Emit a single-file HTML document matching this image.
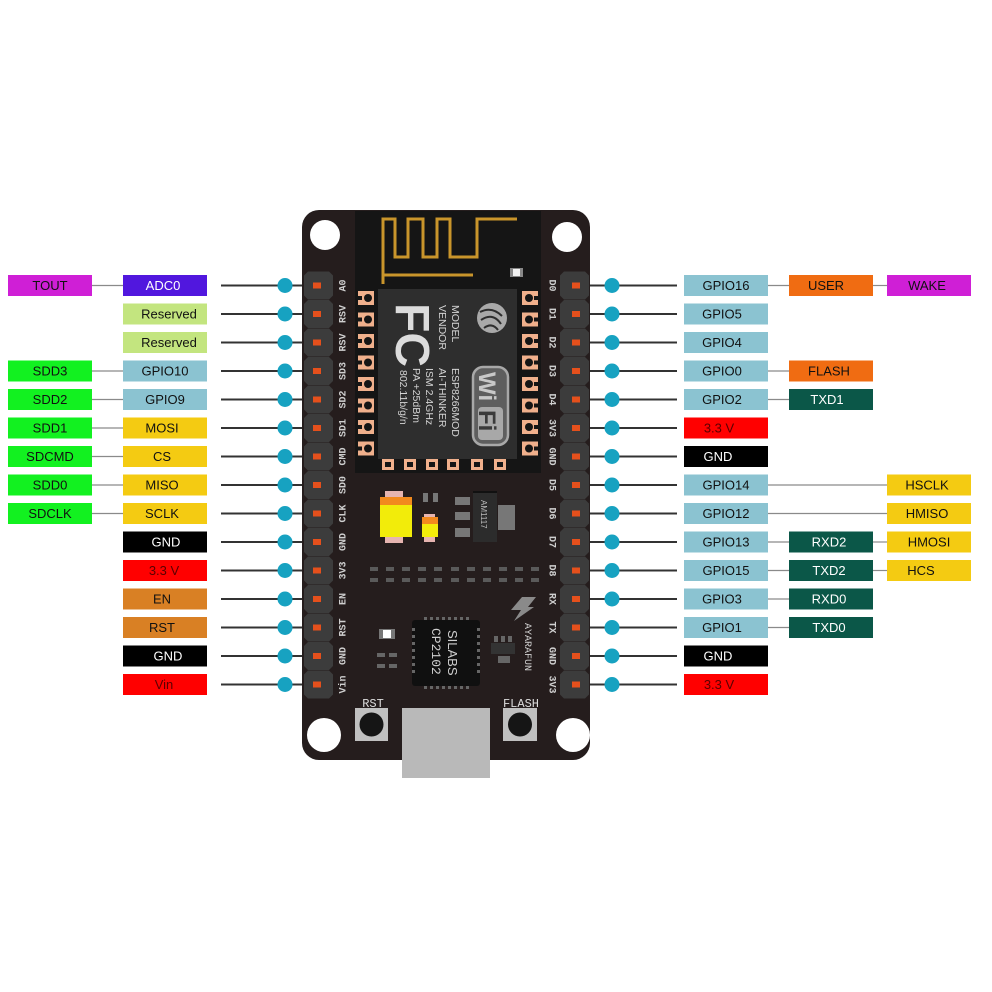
<!DOCTYPE html>
<html><head><meta charset="utf-8"><style>
html,body{margin:0;padding:0;background:#fff;}
svg{display:block;}
.t{font-family:"Liberation Sans",sans-serif;font-size:13px;text-anchor:middle;fill:#111;}
.w{fill:#fff;}
.r{fill:#5a0000;}
.pl{font-family:"Liberation Mono",monospace;font-size:10px;font-weight:bold;fill:#cfcfcf;text-anchor:middle;dominant-baseline:central;}
.st{font-family:"Liberation Sans",sans-serif;font-size:10.5px;fill:#d4d4d4;dominant-baseline:central;}
</style></head><body>
<svg width="992" height="992" viewBox="0 0 992 992" xmlns="http://www.w3.org/2000/svg">
<rect width="992" height="992" fill="#fff"/>

<!-- LEFT ROWS -->
<g id="left">
<g stroke="#333" stroke-width="2">
<line x1="221" x2="306" y1="285.5" y2="285.5"/>
<line x1="221" x2="306" y1="314" y2="314"/>
<line x1="221" x2="306" y1="342.5" y2="342.5"/>
<line x1="221" x2="306" y1="371" y2="371"/>
<line x1="221" x2="306" y1="399.5" y2="399.5"/>
<line x1="221" x2="306" y1="428" y2="428"/>
<line x1="221" x2="306" y1="456.5" y2="456.5"/>
<line x1="221" x2="306" y1="485" y2="485"/>
<line x1="221" x2="306" y1="513.5" y2="513.5"/>
<line x1="221" x2="306" y1="542" y2="542"/>
<line x1="221" x2="306" y1="570.5" y2="570.5"/>
<line x1="221" x2="306" y1="599" y2="599"/>
<line x1="221" x2="306" y1="627.5" y2="627.5"/>
<line x1="221" x2="306" y1="656" y2="656"/>
<line x1="221" x2="306" y1="684.5" y2="684.5"/>
</g>
<g stroke="#8a8a8a" stroke-width="1.2">
<line x1="92" x2="123" y1="285.5" y2="285.5"/>
<line x1="92" x2="123" y1="371" y2="371"/>
<line x1="92" x2="123" y1="399.5" y2="399.5"/>
<line x1="92" x2="123" y1="428" y2="428"/>
<line x1="92" x2="123" y1="456.5" y2="456.5"/>
<line x1="92" x2="123" y1="485" y2="485"/>
<line x1="92" x2="123" y1="513.5" y2="513.5"/>
</g>
<g fill="#17a2c1">
<circle cx="285" cy="285.5" r="7.5"/><circle cx="285" cy="314" r="7.5"/><circle cx="285" cy="342.5" r="7.5"/>
<circle cx="285" cy="371" r="7.5"/><circle cx="285" cy="399.5" r="7.5"/><circle cx="285" cy="428" r="7.5"/>
<circle cx="285" cy="456.5" r="7.5"/><circle cx="285" cy="485" r="7.5"/><circle cx="285" cy="513.5" r="7.5"/>
<circle cx="285" cy="542" r="7.5"/><circle cx="285" cy="570.5" r="7.5"/><circle cx="285" cy="599" r="7.5"/>
<circle cx="285" cy="627.5" r="7.5"/><circle cx="285" cy="656" r="7.5"/><circle cx="285" cy="684.5" r="7.5"/>
</g>
<rect x="8" y="275" width="84" height="21" fill="#cf1fd6"/><text class="t" x="50" y="290">TOUT</text>
<rect x="8" y="360.5" width="84" height="21" fill="#12f120"/><text class="t" x="50" y="375.5">SDD3</text>
<rect x="8" y="389" width="84" height="21" fill="#12f120"/><text class="t" x="50" y="404">SDD2</text>
<rect x="8" y="417.5" width="84" height="21" fill="#12f120"/><text class="t" x="50" y="432.5">SDD1</text>
<rect x="8" y="446" width="84" height="21" fill="#12f120"/><text class="t" x="50" y="461">SDCMD</text>
<rect x="8" y="474.5" width="84" height="21" fill="#12f120"/><text class="t" x="50" y="489.5">SDD0</text>
<rect x="8" y="503" width="84" height="21" fill="#12f120"/><text class="t" x="50" y="518">SDCLK</text>
<rect x="123" y="275" width="84" height="21" fill="#5117de"/><text class="t w" x="163" y="290">ADC0</text>
<rect x="123" y="303.5" width="84" height="21" fill="#c3e57f"/><text class="t" x="169" y="318.5">Reserved</text>
<rect x="123" y="332" width="84" height="21" fill="#c3e57f"/><text class="t" x="169" y="347">Reserved</text>
<rect x="123" y="360.5" width="84" height="21" fill="#8bc3d1"/><text class="t" x="165" y="375.5">GPIO10</text>
<rect x="123" y="389" width="84" height="21" fill="#8bc3d1"/><text class="t" x="165" y="404">GPIO9</text>
<rect x="123" y="417.5" width="84" height="21" fill="#f4cb12"/><text class="t" x="162" y="432.5">MOSI</text>
<rect x="123" y="446" width="84" height="21" fill="#f4cb12"/><text class="t" x="162" y="461">CS</text>
<rect x="123" y="474.5" width="84" height="21" fill="#f4cb12"/><text class="t" x="162" y="489.5">MISO</text>
<rect x="123" y="503" width="84" height="21" fill="#f4cb12"/><text class="t" x="162" y="518">SCLK</text>
<rect x="123" y="531.5" width="84" height="21" fill="#000"/><text class="t w" x="166" y="546.5">GND</text>
<rect x="123" y="560" width="84" height="21" fill="#ff0000"/><text class="t r" x="164" y="575">3.3 V</text>
<rect x="123" y="588.5" width="84" height="21" fill="#d98024"/><text class="t" x="162" y="603.5">EN</text>
<rect x="123" y="617" width="84" height="21" fill="#d98024"/><text class="t" x="162" y="632">RST</text>
<rect x="123" y="645.5" width="84" height="21" fill="#000"/><text class="t w" x="168" y="660.5">GND</text>
<rect x="123" y="674" width="84" height="21" fill="#ff0000"/><text class="t r" x="164" y="689">Vin</text>
</g>

<!-- RIGHT ROWS -->
<g id="right">
<g stroke="#333" stroke-width="2">
<line x1="588" x2="677" y1="285.5" y2="285.5"/>
<line x1="588" x2="677" y1="314" y2="314"/>
<line x1="588" x2="677" y1="342.5" y2="342.5"/>
<line x1="588" x2="677" y1="371" y2="371"/>
<line x1="588" x2="677" y1="399.5" y2="399.5"/>
<line x1="588" x2="677" y1="428" y2="428"/>
<line x1="588" x2="677" y1="456.5" y2="456.5"/>
<line x1="588" x2="677" y1="485" y2="485"/>
<line x1="588" x2="677" y1="513.5" y2="513.5"/>
<line x1="588" x2="677" y1="542" y2="542"/>
<line x1="588" x2="677" y1="570.5" y2="570.5"/>
<line x1="588" x2="677" y1="599" y2="599"/>
<line x1="588" x2="677" y1="627.5" y2="627.5"/>
<line x1="588" x2="677" y1="656" y2="656"/>
<line x1="588" x2="677" y1="684.5" y2="684.5"/>
</g>
<g stroke="#8a8a8a" stroke-width="1.2">
<line x1="768" x2="789" y1="285.5" y2="285.5"/>
<line x1="873" x2="887" y1="285.5" y2="285.5"/>
<line x1="768" x2="789" y1="371" y2="371"/>
<line x1="768" x2="789" y1="399.5" y2="399.5"/>
<line x1="768" x2="887" y1="485" y2="485"/>
<line x1="768" x2="887" y1="513.5" y2="513.5"/>
<line x1="768" x2="789" y1="542" y2="542"/>
<line x1="873" x2="887" y1="542" y2="542"/>
<line x1="768" x2="789" y1="570.5" y2="570.5"/>
<line x1="873" x2="887" y1="570.5" y2="570.5"/>
<line x1="768" x2="789" y1="599" y2="599"/>
<line x1="768" x2="789" y1="627.5" y2="627.5"/>
</g>
<g fill="#17a2c1">
<circle cx="612" cy="285.5" r="7.5"/><circle cx="612" cy="314" r="7.5"/><circle cx="612" cy="342.5" r="7.5"/>
<circle cx="612" cy="371" r="7.5"/><circle cx="612" cy="399.5" r="7.5"/><circle cx="612" cy="428" r="7.5"/>
<circle cx="612" cy="456.5" r="7.5"/><circle cx="612" cy="485" r="7.5"/><circle cx="612" cy="513.5" r="7.5"/>
<circle cx="612" cy="542" r="7.5"/><circle cx="612" cy="570.5" r="7.5"/><circle cx="612" cy="599" r="7.5"/>
<circle cx="612" cy="627.5" r="7.5"/><circle cx="612" cy="656" r="7.5"/><circle cx="612" cy="684.5" r="7.5"/>
</g>
<rect x="684" y="275" width="84" height="21" fill="#8bc3d1"/><text class="t" x="726" y="290">GPIO16</text>
<rect x="684" y="303.5" width="84" height="21" fill="#8bc3d1"/><text class="t" x="722" y="318.5">GPIO5</text>
<rect x="684" y="332" width="84" height="21" fill="#8bc3d1"/><text class="t" x="722" y="347">GPIO4</text>
<rect x="684" y="360.5" width="84" height="21" fill="#8bc3d1"/><text class="t" x="722" y="375.5">GPIO0</text>
<rect x="684" y="389" width="84" height="21" fill="#8bc3d1"/><text class="t" x="722" y="404">GPIO2</text>
<rect x="684" y="417.5" width="84" height="21" fill="#ff0000"/><text class="t r" x="719" y="432.5">3.3 V</text>
<rect x="684" y="446" width="84" height="21" fill="#000"/><text class="t w" x="718" y="461">GND</text>
<rect x="684" y="474.5" width="84" height="21" fill="#8bc3d1"/><text class="t" x="726" y="489.5">GPIO14</text>
<rect x="684" y="503" width="84" height="21" fill="#8bc3d1"/><text class="t" x="726" y="518">GPIO12</text>
<rect x="684" y="531.5" width="84" height="21" fill="#8bc3d1"/><text class="t" x="726" y="546.5">GPIO13</text>
<rect x="684" y="560" width="84" height="21" fill="#8bc3d1"/><text class="t" x="726" y="575">GPIO15</text>
<rect x="684" y="588.5" width="84" height="21" fill="#8bc3d1"/><text class="t" x="722" y="603.5">GPIO3</text>
<rect x="684" y="617" width="84" height="21" fill="#8bc3d1"/><text class="t" x="722" y="632">GPIO1</text>
<rect x="684" y="645.5" width="84" height="21" fill="#000"/><text class="t w" x="718" y="660.5">GND</text>
<rect x="684" y="674" width="84" height="21" fill="#ff0000"/><text class="t r" x="719" y="689">3.3 V</text>
<rect x="789" y="275" width="84" height="21" fill="#f06c12"/><text class="t" x="826" y="290">USER</text>
<rect x="789" y="360.5" width="84" height="21" fill="#f06c12"/><text class="t" x="829" y="375.5">FLASH</text>
<rect x="789" y="389" width="84" height="21" fill="#0b5748"/><text class="t w" x="827" y="404">TXD1</text>
<rect x="789" y="531.5" width="84" height="21" fill="#0b5748"/><text class="t w" x="829" y="546.5">RXD2</text>
<rect x="789" y="560" width="84" height="21" fill="#0b5748"/><text class="t w" x="829" y="575">TXD2</text>
<rect x="789" y="588.5" width="84" height="21" fill="#0b5748"/><text class="t w" x="829" y="603.5">RXD0</text>
<rect x="789" y="617" width="84" height="21" fill="#0b5748"/><text class="t w" x="829" y="632">TXD0</text>
<rect x="887" y="275" width="84" height="21" fill="#cf1fd6"/><text class="t" x="927" y="290">WAKE</text>
<rect x="887" y="474.5" width="84" height="21" fill="#f4cb12"/><text class="t" x="927" y="489.5">HSCLK</text>
<rect x="887" y="503" width="84" height="21" fill="#f4cb12"/><text class="t" x="927" y="518">HMISO</text>
<rect x="887" y="531.5" width="84" height="21" fill="#f4cb12"/><text class="t" x="929" y="546.5">HMOSI</text>
<rect x="887" y="560" width="84" height="21" fill="#f4cb12"/><text class="t" x="921" y="575">HCS</text>
</g>

<!-- BOARD -->
<rect x="302" y="210" width="288" height="550" rx="17" fill="#251d1d"/>
<rect x="355" y="211" width="186" height="262" fill="#151515"/>
<g fill="none" stroke="#c9952b" stroke-width="3">
<path d="M383,284 V219 H395 V257 H408 V219 H423 V257 H437 V219 H450 V257 H477 V219 H517"/>
<path d="M383,275 H473"/>
</g>
<rect x="510" y="268" width="13" height="9" fill="#888"/><rect x="513" y="269" width="7" height="7" fill="#f2f2f2"/>
<rect x="378" y="289" width="139" height="170" fill="#2e2e2e"/>
<g>
<g fill="#f0b08c">
<rect x="358" y="291" width="16" height="14"/><rect x="358" y="312.5" width="16" height="14"/><rect x="358" y="334" width="16" height="14"/><rect x="358" y="355.5" width="16" height="14"/>
<rect x="358" y="377" width="16" height="14"/><rect x="358" y="398.5" width="16" height="14"/><rect x="358" y="420" width="16" height="14"/><rect x="358" y="441.5" width="16" height="14"/>
<rect x="522" y="291" width="16" height="14"/><rect x="522" y="312.5" width="16" height="14"/><rect x="522" y="334" width="16" height="14"/><rect x="522" y="355.5" width="16" height="14"/>
<rect x="522" y="377" width="16" height="14"/><rect x="522" y="398.5" width="16" height="14"/><rect x="522" y="420" width="16" height="14"/><rect x="522" y="441.5" width="16" height="14"/>
<rect x="382" y="459" width="12" height="11"/><rect x="404" y="459" width="12" height="11"/><rect x="426" y="459" width="12" height="11"/>
<rect x="447" y="459" width="12" height="11"/><rect x="471" y="459" width="12" height="11"/><rect x="494" y="459" width="12" height="11"/>
</g>
<g fill="#151515">
<circle cx="368" cy="298" r="4"/><circle cx="368" cy="319.5" r="4"/><circle cx="368" cy="341" r="4"/><circle cx="368" cy="362.5" r="4"/>
<circle cx="368" cy="384" r="4"/><circle cx="368" cy="405.5" r="4"/><circle cx="368" cy="427" r="4"/><circle cx="368" cy="448.5" r="4"/>
<rect x="358" y="296" width="4" height="4"/><rect x="358" y="317.5" width="4" height="4"/><rect x="358" y="339" width="4" height="4"/><rect x="358" y="360.5" width="4" height="4"/>
<rect x="358" y="382" width="4" height="4"/><rect x="358" y="403.5" width="4" height="4"/><rect x="358" y="425" width="4" height="4"/><rect x="358" y="446.5" width="4" height="4"/>
<circle cx="529" cy="298" r="4"/><circle cx="529" cy="319.5" r="4"/><circle cx="529" cy="341" r="4"/><circle cx="529" cy="362.5" r="4"/>
<circle cx="529" cy="384" r="4"/><circle cx="529" cy="405.5" r="4"/><circle cx="529" cy="427" r="4"/><circle cx="529" cy="448.5" r="4"/>
<rect x="534" y="296" width="4" height="4"/><rect x="534" y="317.5" width="4" height="4"/><rect x="534" y="339" width="4" height="4"/><rect x="534" y="360.5" width="4" height="4"/>
<rect x="534" y="382" width="4" height="4"/><rect x="534" y="403.5" width="4" height="4"/><rect x="534" y="425" width="4" height="4"/><rect x="534" y="446.5" width="4" height="4"/>
<rect x="385" y="462" width="6" height="5"/><rect x="407" y="462" width="6" height="5"/><rect x="429" y="462" width="6" height="5"/>
<rect x="450" y="462" width="6" height="5"/><rect x="474" y="462" width="6" height="5"/><rect x="497" y="462" width="6" height="5"/>
</g>
</g>
<text x="0" y="0" transform="translate(396,303) rotate(90)" font-family="Liberation Sans, sans-serif" font-weight="bold" font-size="48" fill="#dcdcdc">FC</text>
<circle cx="492" cy="318" r="15" fill="#a9a9a9"/>
<g fill="none" stroke="#2e2e2e" stroke-width="2">
<path d="M480,312 q12,-6 22,4"/><path d="M481,320 q12,-8 20,4"/><path d="M484,328 q8,-6 14,2"/>
</g>
<g class="st">
<text transform="translate(455,305) rotate(90)">MODEL</text>
<text transform="translate(442,305) rotate(90)">VENDOR</text>
<text transform="translate(455,368) rotate(90)">ESP8266MOD</text>
<text transform="translate(442,368) rotate(90)">AI-THINKER</text>
<text transform="translate(429,368) rotate(90)">ISM 2.4GHz</text>
<text transform="translate(416,368) rotate(90)">PA +25dBm</text>
<text transform="translate(403,370) rotate(90)">802.11b/g/n</text>
</g>
<rect x="473" y="367" width="35" height="78" rx="10" fill="#5e5e5e" stroke="#a8a8a8" stroke-width="2.5"/>
<rect x="478" y="407" width="25" height="33" rx="4" fill="#a8a8a8"/>
<text transform="translate(479,372) rotate(90)" font-family="Liberation Sans, sans-serif" font-weight="bold" font-size="24" fill="#c8c8c8">Wi</text>
<text transform="translate(479,410) rotate(90)" font-family="Liberation Sans, sans-serif" font-weight="bold" font-size="24" fill="#3a3a3a">Fi</text>

<g fill="#3c3c3c">
<polygon points="304,275.5 308,271.5 329,271.5 333,275.5 333,295.5 329,299.5 308,299.5 304,295.5"/>
<polygon points="304,304 308,300 329,300 333,304 333,324 329,328 308,328 304,324"/>
<polygon points="304,332.5 308,328.5 329,328.5 333,332.5 333,352.5 329,356.5 308,356.5 304,352.5"/>
<polygon points="304,361 308,357 329,357 333,361 333,381 329,385 308,385 304,381"/>
<polygon points="304,389.5 308,385.5 329,385.5 333,389.5 333,409.5 329,413.5 308,413.5 304,409.5"/>
<polygon points="304,418 308,414 329,414 333,418 333,438 329,442 308,442 304,438"/>
<polygon points="304,446.5 308,442.5 329,442.5 333,446.5 333,466.5 329,470.5 308,470.5 304,466.5"/>
<polygon points="304,475 308,471 329,471 333,475 333,495 329,499 308,499 304,495"/>
<polygon points="304,503.5 308,499.5 329,499.5 333,503.5 333,523.5 329,527.5 308,527.5 304,523.5"/>
<polygon points="304,532 308,528 329,528 333,532 333,552 329,556 308,556 304,552"/>
<polygon points="304,560.5 308,556.5 329,556.5 333,560.5 333,580.5 329,584.5 308,584.5 304,580.5"/>
<polygon points="304,589 308,585 329,585 333,589 333,609 329,613 308,613 304,609"/>
<polygon points="304,617.5 308,613.5 329,613.5 333,617.5 333,637.5 329,641.5 308,641.5 304,637.5"/>
<polygon points="304,646 308,642 329,642 333,646 333,666 329,670 308,670 304,666"/>
<polygon points="304,674.5 308,670.5 329,670.5 333,674.5 333,694.5 329,698.5 308,698.5 304,694.5"/>
</g>
<g fill="#3c3c3c" transform="translate(256,0)">
<polygon points="304,275.5 308,271.5 329,271.5 333,275.5 333,295.5 329,299.5 308,299.5 304,295.5"/>
<polygon points="304,304 308,300 329,300 333,304 333,324 329,328 308,328 304,324"/>
<polygon points="304,332.5 308,328.5 329,328.5 333,332.5 333,352.5 329,356.5 308,356.5 304,352.5"/>
<polygon points="304,361 308,357 329,357 333,361 333,381 329,385 308,385 304,381"/>
<polygon points="304,389.5 308,385.5 329,385.5 333,389.5 333,409.5 329,413.5 308,413.5 304,409.5"/>
<polygon points="304,418 308,414 329,414 333,418 333,438 329,442 308,442 304,438"/>
<polygon points="304,446.5 308,442.5 329,442.5 333,446.5 333,466.5 329,470.5 308,470.5 304,466.5"/>
<polygon points="304,475 308,471 329,471 333,475 333,495 329,499 308,499 304,495"/>
<polygon points="304,503.5 308,499.5 329,499.5 333,503.5 333,523.5 329,527.5 308,527.5 304,523.5"/>
<polygon points="304,532 308,528 329,528 333,532 333,552 329,556 308,556 304,552"/>
<polygon points="304,560.5 308,556.5 329,556.5 333,560.5 333,580.5 329,584.5 308,584.5 304,580.5"/>
<polygon points="304,589 308,585 329,585 333,589 333,609 329,613 308,613 304,609"/>
<polygon points="304,617.5 308,613.5 329,613.5 333,617.5 333,637.5 329,641.5 308,641.5 304,637.5"/>
<polygon points="304,646 308,642 329,642 333,646 333,666 329,670 308,670 304,666"/>
<polygon points="304,674.5 308,670.5 329,670.5 333,674.5 333,694.5 329,698.5 308,698.5 304,694.5"/>
</g>
<g fill="#e5501c">
<rect x="313" y="282.5" width="8" height="6"/><rect x="313" y="311" width="8" height="6"/><rect x="313" y="339.5" width="8" height="6"/>
<rect x="313" y="368" width="8" height="6"/><rect x="313" y="396.5" width="8" height="6"/><rect x="313" y="425" width="8" height="6"/>
<rect x="313" y="453.5" width="8" height="6"/><rect x="313" y="482" width="8" height="6"/><rect x="313" y="510.5" width="8" height="6"/>
<rect x="313" y="539" width="8" height="6"/><rect x="313" y="567.5" width="8" height="6"/><rect x="313" y="596" width="8" height="6"/>
<rect x="313" y="624.5" width="8" height="6"/><rect x="313" y="653" width="8" height="6"/><rect x="313" y="681.5" width="8" height="6"/>
<rect x="572" y="282.5" width="8" height="6"/><rect x="572" y="311" width="8" height="6"/><rect x="572" y="339.5" width="8" height="6"/>
<rect x="572" y="368" width="8" height="6"/><rect x="572" y="396.5" width="8" height="6"/><rect x="572" y="425" width="8" height="6"/>
<rect x="572" y="453.5" width="8" height="6"/><rect x="572" y="482" width="8" height="6"/><rect x="572" y="510.5" width="8" height="6"/>
<rect x="572" y="539" width="8" height="6"/><rect x="572" y="567.5" width="8" height="6"/><rect x="572" y="596" width="8" height="6"/>
<rect x="572" y="624.5" width="8" height="6"/><rect x="572" y="653" width="8" height="6"/><rect x="572" y="681.5" width="8" height="6"/>
</g>
<g class="pl">
<text transform="translate(344,285.5) rotate(-90)">A0</text>
<text transform="translate(344,314) rotate(-90)">RSV</text>
<text transform="translate(344,342.5) rotate(-90)">RSV</text>
<text transform="translate(344,371) rotate(-90)">SD3</text>
<text transform="translate(344,399.5) rotate(-90)">SD2</text>
<text transform="translate(344,428) rotate(-90)">SD1</text>
<text transform="translate(344,456.5) rotate(-90)">CMD</text>
<text transform="translate(344,485) rotate(-90)">SD0</text>
<text transform="translate(344,513.5) rotate(-90)">CLK</text>
<text transform="translate(344,542) rotate(-90)">GND</text>
<text transform="translate(344,570.5) rotate(-90)">3V3</text>
<text transform="translate(344,599) rotate(-90)">EN</text>
<text transform="translate(344,627.5) rotate(-90)">RST</text>
<text transform="translate(344,656) rotate(-90)">GND</text>
<text transform="translate(344,684.5) rotate(-90)">Vin</text>
<text transform="translate(551,285.5) rotate(90)">D0</text>
<text transform="translate(551,314) rotate(90)">D1</text>
<text transform="translate(551,342.5) rotate(90)">D2</text>
<text transform="translate(551,371) rotate(90)">D3</text>
<text transform="translate(551,399.5) rotate(90)">D4</text>
<text transform="translate(551,428) rotate(90)">3V3</text>
<text transform="translate(551,456.5) rotate(90)">GND</text>
<text transform="translate(551,485) rotate(90)">D5</text>
<text transform="translate(551,513.5) rotate(90)">D6</text>
<text transform="translate(551,542) rotate(90)">D7</text>
<text transform="translate(551,570.5) rotate(90)">D8</text>
<text transform="translate(551,599) rotate(90)">RX</text>
<text transform="translate(551,627.5) rotate(90)">TX</text>
<text transform="translate(551,656) rotate(90)">GND</text>
<text transform="translate(551,684.5) rotate(90)">3V3</text>
</g>

<g fill="#fff">
<circle cx="325" cy="235" r="15"/>
<circle cx="567" cy="237" r="15"/>
<circle cx="324" cy="735" r="17"/>
<circle cx="573" cy="735" r="17"/>
</g>

<rect x="385" y="491" width="18" height="7" fill="#e6b4b0"/>
<rect x="380" y="497" width="32" height="9" fill="#f28a1e"/>
<rect x="380" y="505" width="32" height="32" fill="#f2ec0a"/>
<rect x="385" y="537" width="18" height="6" fill="#e6b4b0"/>
<rect x="424" y="514" width="11" height="4" fill="#e6b4b0"/>
<rect x="422" y="517" width="16" height="8" fill="#f28a1e"/>
<rect x="422" y="524" width="16" height="13" fill="#f2ec0a"/>
<rect x="424" y="537" width="11" height="5" fill="#e6b4b0"/>
<rect x="423" y="493" width="5" height="9" fill="#777"/><rect x="433" y="493" width="5" height="9" fill="#777"/>
<rect x="455" y="497" width="15" height="8" fill="#777"/><rect x="455" y="512" width="15" height="8" fill="#777"/><rect x="455" y="528" width="15" height="9" fill="#777"/>
<rect x="473" y="493" width="24" height="49" fill="#2c2c2c"/>
<rect x="473" y="491" width="24" height="2" fill="#111"/>
<text transform="translate(481,500) rotate(90)" font-family="Liberation Sans, sans-serif" font-size="8" fill="#bbb">AM1117</text>
<rect x="498" y="505" width="17" height="25" fill="#777"/>
<g fill="#5a5a5a">
<rect x="370" y="567" width="8" height="4"/><rect x="386" y="567" width="8" height="4"/><rect x="402" y="567" width="8" height="4"/><rect x="418" y="567" width="8" height="4"/><rect x="434" y="567" width="8" height="4"/><rect x="451" y="567" width="8" height="4"/><rect x="467" y="567" width="8" height="4"/><rect x="483" y="567" width="8" height="4"/><rect x="499" y="567" width="8" height="4"/><rect x="515" y="567" width="8" height="4"/><rect x="531" y="567" width="8" height="4"/>
<rect x="370" y="578" width="8" height="4"/><rect x="386" y="578" width="8" height="4"/><rect x="402" y="578" width="8" height="4"/><rect x="418" y="578" width="8" height="4"/><rect x="434" y="578" width="8" height="4"/><rect x="451" y="578" width="8" height="4"/><rect x="467" y="578" width="8" height="4"/><rect x="483" y="578" width="8" height="4"/><rect x="499" y="578" width="8" height="4"/><rect x="515" y="578" width="8" height="4"/><rect x="531" y="578" width="8" height="4"/>
</g>
<polygon points="522,597 536,597 528,607 534,607 514,621 521,610 511,610" fill="#8a8a8a"/>
<text transform="translate(525,623) rotate(90)" font-family="Liberation Mono, monospace" font-size="10" fill="#cfcfcf">AYARAFUN</text>
<rect x="412" y="620" width="68" height="66" rx="3" fill="#101010"/>
<g fill="#666">
<rect x="424" y="617" width="3" height="3"/><rect x="430" y="617" width="3" height="3"/><rect x="436" y="617" width="3" height="3"/><rect x="442" y="617" width="3" height="3"/><rect x="448" y="617" width="3" height="3"/><rect x="454" y="617" width="3" height="3"/><rect x="460" y="617" width="3" height="3"/><rect x="466" y="617" width="3" height="3"/>
<rect x="424" y="686" width="3" height="3"/><rect x="430" y="686" width="3" height="3"/><rect x="436" y="686" width="3" height="3"/><rect x="442" y="686" width="3" height="3"/><rect x="448" y="686" width="3" height="3"/><rect x="454" y="686" width="3" height="3"/><rect x="460" y="686" width="3" height="3"/><rect x="466" y="686" width="3" height="3"/>
<rect x="412" y="628" width="3" height="3"/><rect x="412" y="635" width="3" height="3"/><rect x="412" y="642" width="3" height="3"/><rect x="412" y="649" width="3" height="3"/><rect x="412" y="656" width="3" height="3"/><rect x="412" y="663" width="3" height="3"/><rect x="412" y="670" width="3" height="3"/>
<rect x="477" y="628" width="3" height="3"/><rect x="477" y="635" width="3" height="3"/><rect x="477" y="642" width="3" height="3"/><rect x="477" y="649" width="3" height="3"/><rect x="477" y="656" width="3" height="3"/><rect x="477" y="663" width="3" height="3"/><rect x="477" y="670" width="3" height="3"/>
</g>
<text transform="translate(448,630) rotate(90)" font-family="Liberation Sans, sans-serif" font-size="13" fill="#cfcfcf">SILABS</text>
<text transform="translate(432,628) rotate(90)" font-family="Liberation Mono, monospace" font-size="13" fill="#cfcfcf">CP2102</text>
<rect x="379" y="629" width="16" height="10" fill="#777"/><rect x="383" y="630" width="8" height="8" fill="#fff"/>
<g fill="#666"><rect x="377" y="653" width="8" height="4"/><rect x="389" y="653" width="8" height="4"/><rect x="377" y="664" width="8" height="4"/><rect x="389" y="664" width="8" height="4"/></g>
<rect x="494" y="636" width="4" height="6" fill="#666"/><rect x="501" y="636" width="4" height="6" fill="#666"/><rect x="508" y="636" width="4" height="6" fill="#666"/>
<rect x="491" y="643" width="24" height="11" fill="#333"/>
<rect x="498" y="656" width="12" height="7" fill="#666"/>
<text x="373" y="707" font-family="Liberation Mono, monospace" font-size="12" fill="#ddd" text-anchor="middle">RST</text>
<text x="521" y="707" font-family="Liberation Mono, monospace" font-size="12" fill="#ddd" text-anchor="middle">FLASH</text>
<rect x="355" y="708" width="33" height="33" fill="#c0c0c0"/><circle cx="371.5" cy="724.5" r="12" fill="#151515"/>
<rect x="503" y="708" width="34" height="33" fill="#c0c0c0"/><circle cx="520" cy="724.5" r="12" fill="#151515"/>
<rect x="402" y="708" width="88" height="70" fill="#b9b9b9"/>
</svg>
</body></html>
